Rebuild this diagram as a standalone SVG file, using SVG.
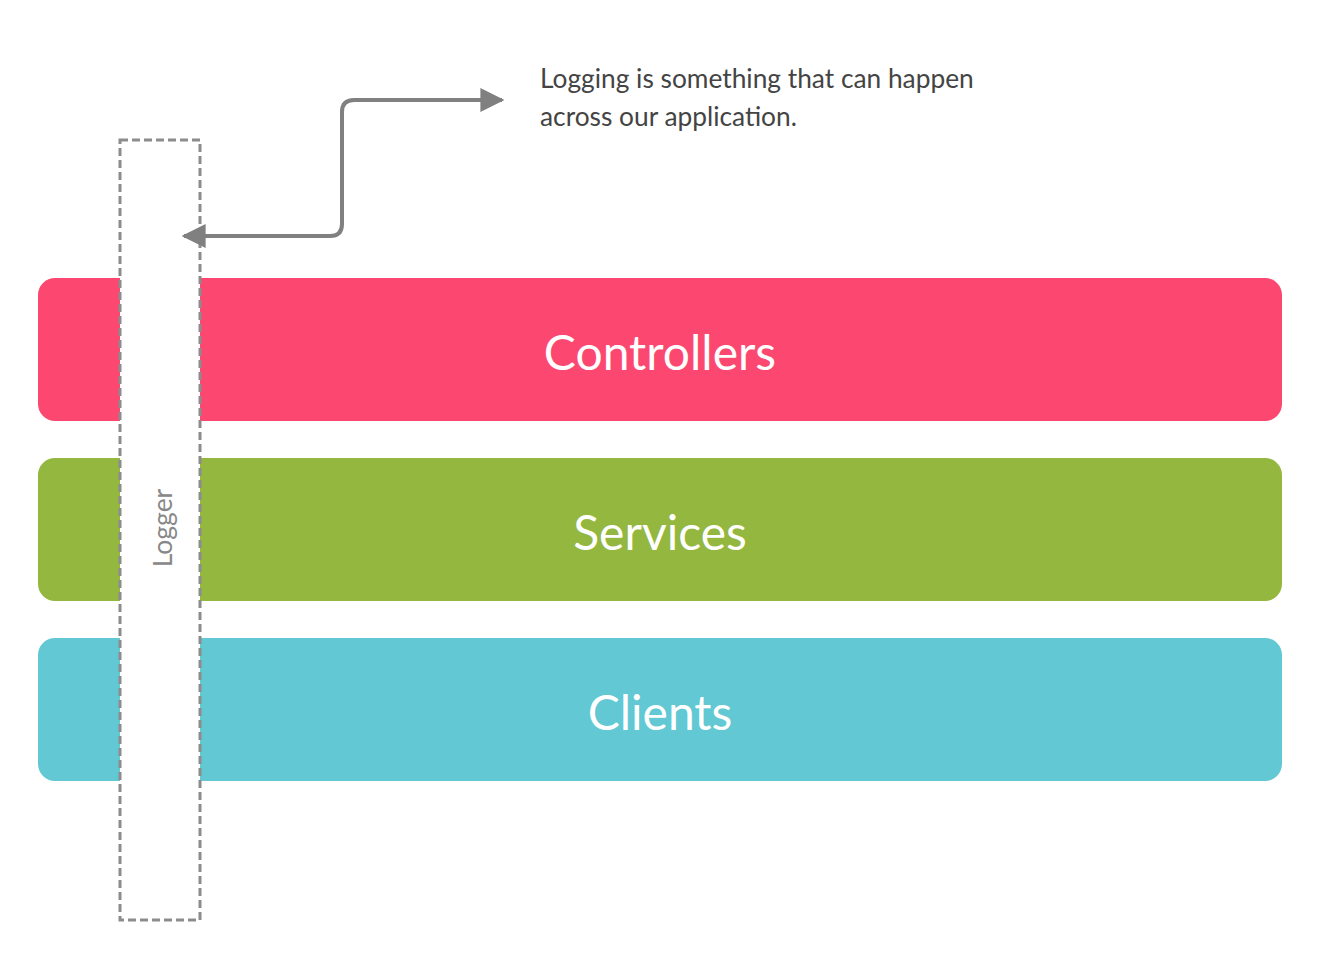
<svg xmlns="http://www.w3.org/2000/svg" width="1320" height="960" viewBox="0 0 1320 960">
<defs>
<style>
.band{stroke:none}
.bt{font-family:Lato,"Open Sans",sans-serif;font-size:48px;fill:#ffffff;text-anchor:middle}
.note{font-family:Lato,"Open Sans",sans-serif;font-size:26.3px;fill:#444444}
.lg{font-family:Lato,"Open Sans",sans-serif;font-size:26.5px;fill:#888888;text-anchor:middle}
.conn{fill:none;stroke:#808080;stroke-width:4}
</style>
<marker id="ah" viewBox="0 0 10 10" refX="9" refY="5" markerWidth="6" markerHeight="6" orient="auto-start-reverse" markerUnits="strokeWidth">
<path d="M0,0 L10,5 L0,10 Z" fill="#808080"/>
</marker>
</defs>
<rect width="1320" height="960" fill="#ffffff"/>
<g id="controllers"><rect class="band" x="38" y="278" width="1244" height="143" rx="17" fill="#FC4870"/><text class="bt" x="660" y="370">Controllers</text></g>
<g id="services"><rect class="band" x="38" y="458" width="1244" height="143" rx="17" fill="#93B73F"/><text class="bt" x="660" y="550">Services</text></g>
<g id="clients"><rect class="band" x="38" y="638" width="1244" height="143" rx="17" fill="#62C8D3"/><text class="bt" x="660" y="730">Clients</text></g>
<g id="logger"><rect x="120" y="140" width="80" height="780" fill="#ffffff" stroke="#8c8c8c" stroke-width="3" stroke-dasharray="8,4"/><text class="lg" transform="translate(172,528) rotate(-90)">Logger</text></g>
<g id="note"><text class="note" x="540" y="88">Logging is something that can happen</text><text class="note" x="540" y="126">across our application.</text></g>
<g id="connectors"><path class="conn" d="M184,236 H330 Q342,236 342,224 V112 Q342,100 354,100 H502" marker-start="url(#ah)" marker-end="url(#ah)"/></g>
</svg>
